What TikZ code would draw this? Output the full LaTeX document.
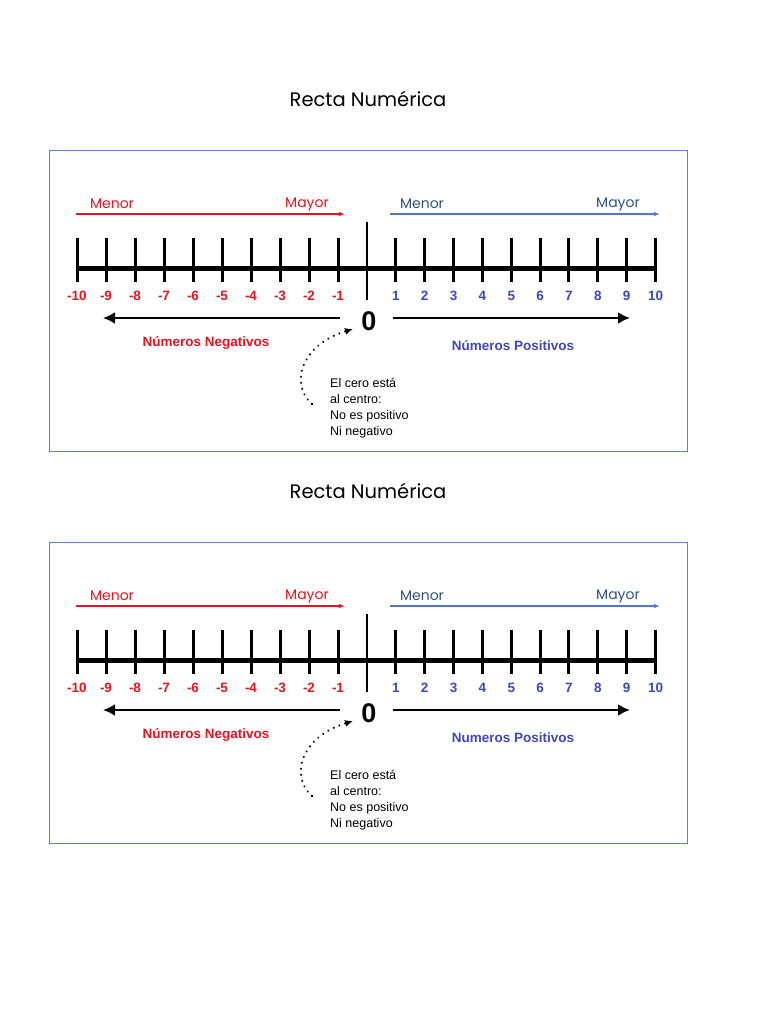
\documentclass[tikz,border=0pt]{standalone}
\usepackage{fontspec}
\setmainfont{Liberation Sans}
\newfontfamily\titlefont{Poppins}
\usetikzlibrary{arrows.meta}
\begin{document}
\begin{tikzpicture}[x=1pt,y=-1pt,
  redc/.style={color={rgb,255:red,230;green,20;blue,30}},
  bluec/.style={color={rgb,255:red,60;green,70;blue,190}},
  lbl/.style={font=\bfseries\fontsize{13.5}{15}\selectfont},
  menor/.style={font=\titlefont\fontsize{14}{16}\selectfont},
  tick/.style={line width=3pt}]
\useasboundingbox (0,0) rectangle (768,1024);
\newcommand\rpanel[3]{%
\begin{scope}[yshift=#1]
\node[font=\titlefont\fontsize{19.5}{22}\selectfont] (t#3) at (368,99) {Recta Numérica};
\draw[color={rgb,255:red,90;green,130;blue,210}] (49,150) rectangle (687,451);
\coordinate (rl#3) at (76,214); \coordinate (rr#3) at (345,214);
\draw[redc,line width=1.3pt,-{Latex[length=6pt]}] (rl#3) -- (rr#3);
\node[redc,menor] (rm#3) at (112,204) {Menor};
\node[redc,menor] (rM#3) at (307,204) {Mayor};
\coordinate (bl#3) at (390,214); \coordinate (br#3) at (660,214);
\draw[color={rgb,255:red,80;green,120;blue,200},line width=1.3pt,-{Latex[length=6pt]}] (bl#3) -- (br#3);
\node[color={rgb,255:red,50;green,80;blue,130},menor] (bm#3) at (422,204) {Menor};
\node[color={rgb,255:red,50;green,80;blue,130},menor] (bM#3) at (618,204) {Mayor};
\coordinate (al#3) at (76,268); \coordinate (ar#3) at (656,268);
\draw[line width=5pt] (al#3) -- (ar#3);
\foreach \i in {1,...,10}{
  \draw[tick] ({367-29*\i},238) -- ({367-29*\i},282);
  \node[redc,lbl] at ({367-29*\i},296) {-\i};
  \draw[tick] ({367+28.85*\i},238) -- ({367+28.85*\i},282);
  \node[bluec,lbl] at ({367+28.85*\i},296) {\i};
}
\draw[line width=2.4pt] (367,222) -- (367,300);
\node[font=\bfseries\fontsize{27}{30}\selectfont] (z#3) at (369,321) {0};
\coordinate (nl#3) at (340,318); \coordinate (nr#3) at (103,318);
\draw[line width=2.8pt,-{Latex[length=12pt,width=12pt]}] (nl#3) -- (nr#3);
\coordinate (pl#3) at (393,318); \coordinate (pr#3) at (630,318);
\draw[line width=2.8pt,-{Latex[length=12pt,width=12pt]}] (pl#3) -- (pr#3);
\node[redc,lbl] (nn#3) at (206,343) {Números Negativos};
\node[bluec,lbl] (np#3) at (513,346) {#2};
\node[font=\fontsize{12.5}{16}\selectfont,align=left,anchor=north west,inner sep=0] (c#3) at (330,378) {El cero está\\al centro:\\No es positivo\\Ni negativo};
\coordinate (ds#3) at (312,404);
\draw[line width=2.2pt,dash pattern=on 0.1pt off 6pt,line cap=round,-{Latex[length=8pt,width=7pt]}] (ds#3) .. controls (290,385) and (300,345) .. (353,329);
\end{scope}}
\rpanel{0pt}{Números Positivos}{a}
\rpanel{-392pt}{Numeros Positivos}{b}
\end{tikzpicture}
\end{document}
